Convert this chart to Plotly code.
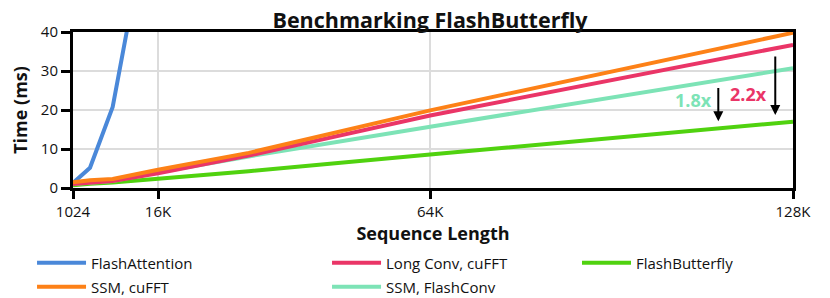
import plotly.graph_objects as go

# ---- data ----
seq_len = [1024, 2048, 4096, 8192, 16384, 32768, 65536, 131072]
flash_attention = [1.3, 2.6, 5.2, 20.8, 83.0, None, None, None]
ssm_cufft = [1.5, 1.7, 2.0, 2.3, 4.7, 9.0, 19.9, 39.8]
long_conv_cufft = [1.0, 1.1, 1.3, 1.8, 3.8, 8.3, 18.6, 36.7]
ssm_flashconv = [1.0, 1.1, 1.3, 1.8, 4.0, 8.1, 15.7, 30.7]
flash_butterfly = [0.7, 0.9, 1.1, 1.4, 2.3, 4.3, 8.6, 17.0]

x_tickvals = [1024, 16384, 65536, 131072]
x_ticktext = ["1024", "16K", "64K", "128K"]

FONT = "Open Sans"
C_BLUE = "#4a88d9"
C_ORANGE = "#fd8117"
C_RED = "#ea3567"
C_TEAL = "#7de3b6"
C_GREEN = "#50d20f"

fig = go.Figure()

def add(name, ys, color, legend, rank):
    fig.add_trace(go.Scatter(
        x=seq_len, y=ys, mode="lines", name=name,
        line=dict(color=color, width=4), legend=legend, legendrank=rank,
    ))

# drawing order: later traces on top; legends laid out as in the reference
add("FlashAttention", flash_attention, C_BLUE, "legend", 1)
add("FlashButterfly", flash_butterfly, C_GREEN, "legend2", 1)
add("SSM, FlashConv", ssm_flashconv, C_TEAL, "legend3", 2)
add("Long Conv, cuFFT", long_conv_cufft, C_RED, "legend", 2)
add("SSM, cuFFT", ssm_cufft, C_ORANGE, "legend3", 1)

# speedup annotations
fig.add_annotation(x=113150, y=22.6, text="<b>1.8x</b>", showarrow=False,
                   font=dict(family=FONT, size=18, color=C_TEAL))
fig.add_annotation(x=122970, y=24.2, text="<b>2.2x</b>", showarrow=False,
                   font=dict(family=FONT, size=18, color=C_RED))
fig.add_annotation(x=117580, y=17.1, ax=117580, ay=26.0, axref="x", ayref="y",
                   text="", showarrow=True, arrowhead=2, arrowsize=1,
                   arrowwidth=2, arrowcolor="black")
fig.add_annotation(x=127870, y=18.7, ax=127870, ay=34.1, axref="x", ayref="y",
                   text="", showarrow=True, arrowhead=2, arrowsize=1,
                   arrowwidth=2, arrowcolor="black")

legend_common = dict(
    orientation="h", xanchor="left", yanchor="middle",
    bgcolor="rgba(0,0,0,0)",
    font=dict(family=FONT, size=15, color="#111"), itemwidth=49,
)

fig.update_layout(
    template="none",
    width=830, height=312,
    margin=dict(l=65, r=45, t=24, b=132),
    paper_bgcolor="white", plot_bgcolor="white",
    font=dict(family=FONT, size=15, color="#111"),
    title=dict(text="<b>Benchmarking FlashButterfly</b>", x=0.5084, xanchor="center",
               y=0.9615, yanchor="middle", font=dict(family=FONT, size=21.5, color="#111")),
    legend=dict(x=-0.0569, y=-0.4808, entrywidth=231, **legend_common),
    legend2=dict(x=0.70, y=-0.4808, **legend_common),
    legend3=dict(x=-0.0569, y=-0.6346, entrywidth=231, **legend_common),
    xaxis=dict(
        range=[1024, 131072], tickvals=x_tickvals, ticktext=x_ticktext,
        automargin=False,
        showline=True, linewidth=3, linecolor="black", mirror=True,
        ticks="outside", ticklen=8, tickwidth=3, tickcolor="black",
        showgrid=True, gridcolor="#dcdcdc", gridwidth=1.5, zeroline=False,
        tickfont=dict(family=FONT, size=15, color="#111"),
        title=dict(text="<b>Sequence Length</b>", standoff=7,
                   font=dict(family=FONT, size=18, color="#111")),
    ),
    yaxis=dict(
        range=[0, 40], dtick=10,
        automargin=False,
        showline=True, linewidth=3, linecolor="black", mirror=True,
        ticks="outside", ticklen=9, tickwidth=3, tickcolor="black",
        showgrid=True, gridcolor="#dcdcdc", gridwidth=1.5, zeroline=False,
        tickfont=dict(family=FONT, size=15, color="#111"),
        title=dict(text="<b>Time (ms)</b>", standoff=20,
                   font=dict(family=FONT, size=18, color="#111")),
    ),
)

fig.write_html("out.html")
